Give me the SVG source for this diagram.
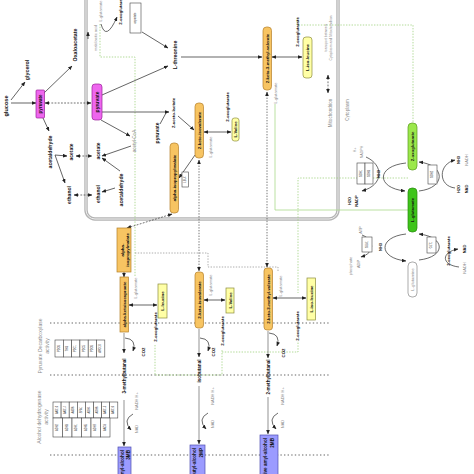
<svg xmlns="http://www.w3.org/2000/svg" width="474" height="474" viewBox="0 0 474 474">
<style>
text{font-family:"Liberation Sans",Arial,sans-serif;text-anchor:middle;dominant-baseline:central}
.b{font-weight:bold;fill:#111}
.g{fill:#8a8a8a}
.e{fill:#333;font-size:2.6px}
.end{text-anchor:end}
.ln{fill:none;stroke:#222;stroke-width:0.7}
.lg{fill:none;stroke:#666;stroke-width:0.7}
.da{fill:none;stroke:#333;stroke-width:0.7;stroke-dasharray:1.8 1.4}
.dt{fill:none;stroke:#555;stroke-width:0.8;stroke-dasharray:1.4 1.4}
.dg{fill:none;stroke:#9a9a9a;stroke-width:0.8;stroke-dasharray:1.4 1.4}
.dgr{fill:none;stroke:#9fd27f;stroke-width:0.8;stroke-dasharray:1.4 1.4}
.sgr{fill:none;stroke:#a9d98c;stroke-width:0.8}
.sep{fill:none;stroke:#999;stroke-width:1.4;stroke-dasharray:1.4 2.2}
.or{fill:#f7c462;stroke:#b4802a;stroke-width:0.7}
.ye{fill:#ffffa6;stroke:#8c8c3c;stroke-width:0.7}
.mg{fill:#ee66ee;stroke:#9a1f9a;stroke-width:0.7}
.bl{fill:#9b9bff;stroke:#4e4eb0;stroke-width:0.7}
.gl{fill:#9be84a;stroke:#5a9a20;stroke-width:0.7}
.gd{fill:#3ec41a;stroke:#2a8a10;stroke-width:0.7}
.wh{fill:#fff;stroke:#888;stroke-width:0.7}
.enz{fill:#fff;stroke:#444;stroke-width:0.6}
.arc{fill:none;stroke:#444;stroke-width:0.8}
</style>
<defs>
<marker id="ah" viewBox="0 0 6 5" refX="5.5" refY="2.5" markerWidth="4.5" markerHeight="3.8" markerUnits="userSpaceOnUse" orient="auto-start-reverse"><path d="M0,0 L6,2.5 L0,5 z" fill="#222"/></marker>
</defs>
<rect width="474" height="474" fill="#fff"/>

<g id="compartment">
<rect x="86" y="-20" width="252" height="239" rx="9" fill="none" stroke="#b4b4b4" stroke-width="3.4"/>
<rect x="86" y="-20" width="252" height="239" rx="9" fill="none" stroke="#eeeeee" stroke-width="1"/>
</g>

<g id="separators">
<path class="sep" d="M50,323 H330 M50,375 H330 M50,455 H330"/>
</g>

<g id="connectors">
<path class="dgr" d="M100,24 V57 H135 V276"/>
<path class="dg" d="M135,253 H208 V267 H278 V271"/>
<path class="sgr" d="M275,104 V210 H408"/>
<path class="dgr" d="M408,178 H298 V293"/>
<path class="dgr" d="M297,18 V25 H413 V123"/>
<path class="dgr" d="M155,345 V375 H222 V349 M222,352 H298 V341"/>
<path class="da" marker-start="url(#ah)" marker-end="url(#ah)" d="M45,103 H91"/>
<path class="da" marker-start="url(#ah)" marker-end="url(#ah)" d="M76,156 H92"/>
<path class="da" marker-start="url(#ah)" marker-end="url(#ah)" d="M74,195 H92"/>
<path class="dt" marker-start="url(#ah)" marker-end="url(#ah)" d="M199,160 V271"/>
<path class="dt" marker-start="url(#ah)" marker-end="url(#ah)" d="M267,92 V267"/>
<path class="da" marker-start="url(#ah)" marker-end="url(#ah)" d="M172,214 L127,228"/>
<path class="da" marker-start="url(#ah)" marker-end="url(#ah)" d="M328,75 V93"/>
<path class="ln" marker-end="url(#ah)" d="M88,39 V32"/>
<path class="ln" marker-end="url(#ah)" d="M11,103 H36"/>
<path class="ln" marker-end="url(#ah)" d="M11,100 L25,82"/>
<path class="ln" marker-end="url(#ah)" d="M44,93 L72,66"/>
<path class="ln" marker-end="url(#ah)" d="M43,118 L49,131"/>
<path class="ln" marker-end="url(#ah)" d="M55,155 L67,156"/>
<path class="ln" marker-end="url(#ah)" d="M55,155 L65,183"/>
<path class="ln" marker-end="url(#ah)" d="M115,188 L102,192"/>
<path class="ln" marker-end="url(#ah)" d="M120,171 L102,158"/>
<path class="ln" marker-end="url(#ah)" d="M131,146 L102,156"/>
<path class="ln" marker-end="url(#ah)" d="M101,120 L130,136"/>
<path class="ln" marker-end="url(#ah)" d="M102,112 H169"/>
<path class="ln" d="M160,124 L166,113"/>
<path class="ln" marker-end="url(#ah)" d="M178,116 L194,130"/>
<path class="ln" marker-end="url(#ah)" d="M142,32 L168,48"/>
<path class="ln" marker-end="url(#ah)" d="M102,95 L168,66"/>
<path class="ln" marker-end="url(#ah)" d="M181,57 H262"/>
<path class="ln" marker-start="url(#ah)" marker-end="url(#ah)" d="M272,57 H302"/>
<path class="ln" marker-start="url(#ah)" marker-end="url(#ah)" d="M204,132 H231"/>
<path class="ln" marker-end="url(#ah)" d="M195,155 L179,178"/>
<path class="arc" marker-end="url(#ah)" d="M101,24 Q106,42 117,17"/>
<path class="ln" marker-end="url(#ah)" d="M124,271 V277"/>
<path class="ln" marker-start="url(#ah)" marker-end="url(#ah)" d="M129,305 H157"/>
<path class="ln" marker-start="url(#ah)" marker-end="url(#ah)" d="M204,300 H225"/>
<path class="ln" marker-start="url(#ah)" marker-end="url(#ah)" d="M273,298 H306"/>
<path class="lg" marker-end="url(#ah)" d="M124,333 V353"/>
<path class="lg" marker-end="url(#ah)" d="M124,400 V446"/>
<path class="lg" marker-end="url(#ah)" d="M199,329 V357"/>
<path class="lg" marker-end="url(#ah)" d="M199,386 V444"/>
<path class="lg" marker-end="url(#ah)" d="M268,331 V358"/>
<path class="lg" marker-end="url(#ah)" d="M268,397 V434"/>
<path class="arc" marker-end="url(#ah)" d="M125,338 Q137,339 133,351"/>
<path class="arc" marker-end="url(#ah)" d="M200,338 Q212,339 208,351"/>
<path class="arc" marker-end="url(#ah)" d="M269,333 Q281,334 277,346"/>
<path class="arc" marker-end="url(#ah)" d="M133,414 Q122,420 131,430"/>
<path class="arc" marker-end="url(#ah)" d="M208,413 Q197,419 206,429"/>
<path class="arc" marker-end="url(#ah)" d="M278,413 Q267,419 276,429"/>
<path class="arc" marker-end="url(#ah)" d="M406,163 C376,166 376,188 405,191"/>
<path class="arc" marker-end="url(#ah)" d="M366,157 C384,165 384,185 362,191"/>
<path class="arc" marker-end="url(#ah)" d="M419,191 C446,188 446,165 419,162"/>
<path class="arc" marker-end="url(#ah)" d="M455,188 C438,186 438,164 455,160"/>
<path class="arc" marker-end="url(#ah)" d="M406,234 C378,237 378,258 406,261"/>
<path class="arc" marker-end="url(#ah)" d="M362,235 C375,240 375,253 361,257"/>
<path class="arc" marker-end="url(#ah)" d="M419,260 C446,257 446,237 419,234"/>
<path class="arc" marker-end="url(#ah)" d="M459,267 C441,265 441,252 458,249"/>
</g>

<g id="n-glucose"><text class="b" font-size="5.6" transform="translate(6,106) rotate(-90)">glucose</text></g>
<g id="n-glycerol"><text class="b" font-size="5.3" transform="translate(27,70) rotate(-90)">glycerol</text></g>
<g id="n-oxaloacetate"><text class="b" font-size="5.3" transform="translate(75,45) rotate(-90)">Oxaloacetate</text></g>
<g id="n-pyruvate-out"><rect class="mg" x="36" y="90" width="8.5" height="28" rx="1"/><text class="b" font-size="4.5" transform="translate(40.3,104) rotate(-90)">pyruvate</text></g>
<g id="n-acetaldehyde-out"><text class="b" font-size="5.2" transform="translate(50,152) rotate(-90)">acetaldehyde</text></g>
<g id="n-acetate-out"><text class="b" font-size="5" transform="translate(71,152) rotate(-90)">acetate</text></g>
<g id="n-ethanol-out"><text class="b" font-size="5" transform="translate(69,195) rotate(-90)">ethanol</text></g>
<g id="n-acetate-in"><text class="b" font-size="5" transform="translate(98,151) rotate(-90)">acetate</text></g>
<g id="n-ethanol-in"><text class="b" font-size="5" transform="translate(98,194) rotate(-90)">ethanol</text></g>
<g id="n-acetaldehyde-in"><text class="b" font-size="5.2" transform="translate(121,190) rotate(-90)">acetaldehyde</text></g>
<g id="n-acetylcoa"><text class="g" font-size="4.6" transform="translate(134,141) rotate(-90)">acetyl-CoA</text></g>
<g id="n-pyruvate-in"><rect class="mg" x="92" y="84" width="10" height="36" rx="3"/><text class="b" font-size="5" transform="translate(97,102) rotate(-90)">pyruvate</text></g>
<g id="n-malate"><text class="g" font-size="4" transform="translate(95,38) rotate(-90)">malolactic acid</text></g>
<g id="n-glu-top"><text class="g" font-size="4" transform="translate(100,11) rotate(-90)">L-glutamate</text></g>
<g id="n-oxo-top"><text class="b" font-size="4.3" transform="translate(120,10) rotate(-90)">2-oxoglutarate</text></g>
<g id="n-enzyme-top"><rect class="enz" x="130" y="3" width="11" height="30"/><text class="e" transform="translate(135.5,18) rotate(-90)">aspartate</text></g>
<g id="n-pyruvate-txt"><text class="b" font-size="5" transform="translate(157,133) rotate(-90)">pyruvate</text></g>
<g id="n-acetolactate"><text class="b" font-size="4.3" transform="translate(173,113) rotate(-90)">2-aceto-lactate</text></g>
<g id="n-threonine"><text class="b" font-size="5.2" transform="translate(175,55) rotate(-90)">L-threonine</text></g>

<g id="n-kmv-in"><rect class="or" x="263" y="27" width="8.5" height="63" rx="3.5"/><text class="b" font-size="4.3" transform="translate(267.3,58.5) rotate(-90)">2-keto-3-methyl-valerate</text></g>
<g id="n-glu-kmv-in"><text class="g" font-size="4" transform="translate(275,93) rotate(-90)">L-glutamate</text></g>
<g id="n-oxo-kmv-in"><text class="b" font-size="4.3" transform="translate(297,32) rotate(-90)">2-oxoglutarate</text></g>
<g id="n-ile-in"><rect class="ye" x="303" y="37" width="9" height="41" rx="3"/><text class="b" font-size="4.4" transform="translate(307.5,57.5) rotate(-90)">L-iso-leucine</text></g>

<g id="n-kiv-in"><rect class="or" x="195" y="103" width="8.5" height="55" rx="3.5"/><text class="b" font-size="4.4" transform="translate(199.3,130.5) rotate(-90)">2-keto-isovalerate</text></g>
<g id="n-glu-kiv-in"><text class="g" font-size="4" transform="translate(210,147) rotate(-90)">L-glutamate</text></g>
<g id="n-oxo-kiv-in"><text class="b" font-size="4.3" transform="translate(227,107) rotate(-90)">2-oxoglutarate</text></g>
<g id="n-val-in"><rect class="ye" x="232" y="118" width="7" height="23" rx="2.5"/><text class="b" font-size="4.2" transform="translate(235.5,129.5) rotate(-90)">L-Valine</text></g>
<g id="n-ipm-in"><rect class="or" x="170" y="143" width="8.5" height="70" rx="3.5"/><text class="b" font-size="4.4" transform="translate(174.3,178) rotate(-90)">alpha-isopropylmalate</text></g>
<g id="n-leu4"><rect class="enz" x="182" y="172" width="6.5" height="15"/><text class="e" transform="translate(185.3,179.5) rotate(-90)">LEU4</text></g>

<g id="n-ipm-out"><rect class="or" x="117" y="228" width="14" height="44"/><text class="b" font-size="4.4" transform="translate(122,250) rotate(-90)">alpha-</text><text class="b" font-size="4.4" transform="translate(127,250) rotate(-90)">isopropylmalate</text></g>
<g id="n-kic-out"><rect class="or" x="120" y="277" width="8.5" height="55"/><text class="b" font-size="4.3" transform="translate(124.3,304.5) rotate(-90)">alpha-ketoisocaproate</text></g>
<g id="n-glu-kic"><text class="g" font-size="4" transform="translate(135,288) rotate(-90)">L-glutamate</text></g>
<g id="n-leu-out"><rect class="ye" x="158" y="284" width="9" height="34"/><text class="b" font-size="4.4" transform="translate(162.5,301) rotate(-90)">L-leucine</text></g>
<g id="n-oxo-kic"><text class="b" font-size="4.3" transform="translate(155,327) rotate(-90)">2-oxoglutarate</text></g>

<g id="n-kiv-out"><rect class="or" x="195" y="272" width="8.5" height="56" rx="3"/><text class="b" font-size="4.4" transform="translate(199.3,300) rotate(-90)">2-keto-isovalerate</text></g>
<g id="n-glu-kiv-out"><text class="g" font-size="4" transform="translate(210,285) rotate(-90)">L-glutamate</text></g>
<g id="n-val-out"><rect class="ye" x="226" y="288" width="8" height="25"/><text class="b" font-size="4.2" transform="translate(230,300.5) rotate(-90)">L-Valine</text></g>
<g id="n-oxo-kiv-out"><text class="b" font-size="4.3" transform="translate(222,331) rotate(-90)">2-oxoglutarate</text></g>

<g id="n-kmv-out"><rect class="or" x="264" y="268" width="8.5" height="62" rx="3"/><text class="b" font-size="4.3" transform="translate(268.3,299) rotate(-90)">2-keto-3-methyl-valerate</text></g>
<g id="n-glu-kmv-out"><text class="g" font-size="4" transform="translate(280,286) rotate(-90)">L-glutamate</text></g>
<g id="n-ile-out"><rect class="ye" x="307" y="278" width="8.5" height="42"/><text class="b" font-size="4.4" transform="translate(311.3,299) rotate(-90)">L-iso-leucine</text></g>
<g id="n-oxo-kmv-out"><text class="b" font-size="4.3" transform="translate(297,326) rotate(-90)">2-oxoglutarate</text></g>

<g id="n-3mbal"><text class="b" font-size="4.6" transform="translate(124,376) rotate(-90)">3-methylbutanal</text></g>
<g id="n-ibal"><text class="b" font-size="4.6" transform="translate(199,371) rotate(-90)">isobutanal</text></g>
<g id="n-2mbal"><text class="b" font-size="4.6" transform="translate(268,377) rotate(-90)">2-methylbutanal</text></g>
<g id="n-co2"><text class="b" font-size="4.4" transform="translate(143,352) rotate(-90)">CO2</text><text class="b" font-size="4.4" transform="translate(213,352) rotate(-90)">CO2</text><text class="b" font-size="4.4" transform="translate(283,353) rotate(-90)">CO2</text></g>
<g id="n-nadh"><text class="g" font-size="4" transform="translate(136,401) rotate(-90)">NADH H+</text><text class="g" font-size="4" transform="translate(212,396) rotate(-90)">NADH H+</text><text class="g" font-size="4" transform="translate(282,396) rotate(-90)">NADH H+</text></g>
<g id="n-nad"><text class="g" font-size="4" transform="translate(136,429) rotate(-90)">NAD</text><text class="g" font-size="4" transform="translate(212,424) rotate(-90)">NAD</text><text class="g" font-size="4" transform="translate(282,424) rotate(-90)">NAD</text></g>

<g id="n-alc-3mb"><rect class="bl" x="118" y="447" width="13" height="35"/><text class="b end" font-size="4.6" transform="translate(122,450) rotate(-90)">isoamyl-alcohol</text><text class="b end" font-size="4.6" transform="translate(128,450) rotate(-90)">3MB</text></g>
<g id="n-alc-2mp"><rect class="bl" x="190" y="445" width="15" height="37"/><text class="b end" font-size="4.6" transform="translate(194,448) rotate(-90)">isobutyl-alcohol</text><text class="b end" font-size="4.6" transform="translate(201,448) rotate(-90)">2MP</text></g>
<g id="n-alc-2mb"><rect class="bl" x="260" y="435" width="18" height="47"/><text class="b end" font-size="4.6" transform="translate(265,438) rotate(-90)">active amyl-alcohol</text><text class="b end" font-size="4.6" transform="translate(272,438) rotate(-90)">2MB</text></g>

<g id="n-pdc-label"><text class="g" font-size="5.1" transform="translate(40,346) rotate(-90)">Pyruvate Decarboxylase</text><text class="g" font-size="5.1" transform="translate(47,346) rotate(-90)">activity</text></g>
<g id="n-pdc-enz">
<rect class="enz" x="55" y="340" width="8.3" height="17"/><rect class="enz" x="63.3" y="340" width="8.3" height="17"/><rect class="enz" x="71.6" y="340" width="8.3" height="17"/><rect class="enz" x="79.9" y="340" width="8.3" height="17"/><rect class="enz" x="88.2" y="340" width="8.3" height="17"/><rect class="enz" x="96.5" y="340" width="8.3" height="17"/>
<text class="e" transform="translate(59.2,348.5) rotate(-90)">PDC6</text><text class="e" transform="translate(67.5,348.5) rotate(-90)">THI3</text><text class="e" transform="translate(75.8,348.5) rotate(-90)">PDC1</text><text class="e" transform="translate(84.1,348.5) rotate(-90)">PDC5</text><text class="e" transform="translate(92.4,348.5) rotate(-90)">PDC6</text><text class="e" transform="translate(100.7,348.5) rotate(-90)">ARO10</text>
</g>
<g id="n-adh-label"><text class="g" font-size="5.1" transform="translate(39,417) rotate(-90)">Alcohol dehydrogenase</text><text class="g" font-size="5.1" transform="translate(46,417) rotate(-90)">activity</text></g>
<g id="n-adh-enz">
<rect class="enz" x="53" y="402" width="8.1" height="16"/><rect class="enz" x="61.1" y="402" width="8.1" height="16"/><rect class="enz" x="69.2" y="402" width="8.1" height="16"/><rect class="enz" x="77.3" y="402" width="8.1" height="16"/><rect class="enz" x="85.4" y="402" width="8.1" height="16"/><rect class="enz" x="93.5" y="402" width="8.1" height="16"/><rect class="enz" x="101.6" y="402" width="8.1" height="16"/><rect class="enz" x="109.7" y="402" width="8.1" height="16"/>
<rect class="enz" x="53" y="418" width="9.5" height="19"/><rect class="enz" x="62.5" y="418" width="9.5" height="19"/><rect class="enz" x="72" y="418" width="9.5" height="19"/><rect class="enz" x="81.5" y="418" width="9.5" height="19"/><rect class="enz" x="91" y="418" width="9.5" height="19"/><rect class="enz" x="100.5" y="418" width="9.5" height="19"/>
<text class="e" transform="translate(57,410) rotate(-90)">AAD10</text><text class="e" transform="translate(65.1,410) rotate(-90)">AAD14</text><text class="e" transform="translate(73.2,410) rotate(-90)">AAD6</text><text class="e" transform="translate(81.3,410) rotate(-90)">SFA1</text><text class="e" transform="translate(89.4,410) rotate(-90)">ADH4</text><text class="e" transform="translate(97.5,410) rotate(-90)">ADH6</text><text class="e" transform="translate(105.6,410) rotate(-90)">AAD15</text><text class="e" transform="translate(113.7,410) rotate(-90)">AAD16</text>
<text class="e" transform="translate(57.7,427.5) rotate(-90)">ADH2</text><text class="e" transform="translate(67.2,427.5) rotate(-90)">ADH3</text><text class="e" transform="translate(76.7,427.5) rotate(-90)">ADH1</text><text class="e" transform="translate(86.2,427.5) rotate(-90)">ADH5</text><text class="e" transform="translate(95.7,427.5) rotate(-90)">ADH7</text><text class="e" transform="translate(105.2,427.5) rotate(-90)">AAD3</text>
</g>

<g id="legend">
<text class="g" font-size="3.4" transform="translate(326,38) rotate(-90)">transport between</text>
<text class="g" font-size="3.4" transform="translate(331,38) rotate(-90)">Cytoplasm and Mitochondrion</text>
<text class="g" font-size="4.5" transform="translate(330,113) rotate(-90)">Mitochondrion</text>
<text class="g" font-size="4.5" transform="translate(347,110) rotate(-90)">Cytoplasm</text>
</g>

<g id="n-oxo-green"><rect class="gl" x="408" y="123" width="9" height="47" rx="4"/><text class="b" font-size="4.3" transform="translate(412.5,146.5) rotate(-90)">2-oxoglutarate</text></g>
<g id="n-glu-green"><rect class="gd" x="408" y="188" width="9" height="44" rx="4"/><text class="b" font-size="4.3" transform="translate(412.5,210) rotate(-90)">L-glutamate</text></g>
<g id="n-gln"><rect class="wh" x="408" y="262" width="9" height="35" rx="4"/><text class="g" font-size="4.3" transform="translate(412.5,279.5) rotate(-90)">L-glutamine</text></g>
<g id="n-gdh13"><rect class="enz" x="357" y="163" width="8" height="21"/><rect class="enz" x="365" y="163" width="8" height="21"/><text class="e" transform="translate(361,173.5) rotate(-90)">GDH1</text><text class="e" transform="translate(369,173.5) rotate(-90)">GDH3</text></g>
<g id="n-gdh2"><rect class="enz" x="428" y="165" width="9" height="19"/><text class="e" transform="translate(432.5,174.5) rotate(-90)">GDH2</text></g>
<g id="n-gln1"><rect class="enz" x="362" y="237" width="10" height="15"/><text class="e" transform="translate(367,244.5) rotate(-90)">GLN1</text></g>
<g id="n-glt1"><rect class="enz" x="427" y="237" width="9" height="16"/><text class="e" transform="translate(431.5,245) rotate(-90)">GLT1</text></g>
<g id="n-cofactors">
<text class="g" font-size="3.6" transform="translate(355,150) rotate(-90)">H+</text>
<text class="g" font-size="3.6" transform="translate(362,152) rotate(-90)">NADPH</text>
<text class="b" font-size="4" transform="translate(378,174) rotate(-90)">NH3</text>
<text class="b" font-size="4" transform="translate(349,201) rotate(-90)">H2O</text>
<text class="b" font-size="4" transform="translate(356,201) rotate(-90)">NADP</text>
<text class="b" font-size="4" transform="translate(458,160) rotate(-90)">NH3</text>
<text class="g" font-size="4" transform="translate(466,160) rotate(-90)">NADH</text>
<text class="b" font-size="4" transform="translate(458,189) rotate(-90)">H2O</text>
<text class="b" font-size="4" transform="translate(466,189) rotate(-90)">NAD</text>
<text class="g" font-size="4" transform="translate(360,230) rotate(-90)">ATP</text>
<text class="b" font-size="4" transform="translate(380,247) rotate(-90)">NH3</text>
<text class="g" font-size="4" transform="translate(350,266) rotate(-90)">phosphate</text>
<text class="g" font-size="4" transform="translate(358,264) rotate(-90)">ADP</text>
<text class="b" font-size="4.3" transform="translate(448,251) rotate(-90)">2-oxoglutarate</text>
<text class="b" font-size="4" transform="translate(464,249) rotate(-90)">NAD</text>
<text class="g" font-size="4" transform="translate(464,268) rotate(-90)">NADH</text>
</g>
</svg>
